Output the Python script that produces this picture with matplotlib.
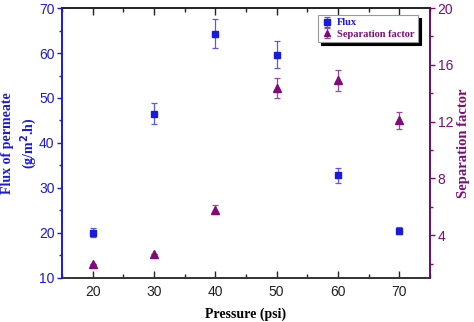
import matplotlib
matplotlib.use("Agg")
import matplotlib.pyplot as plt
from matplotlib.ticker import MultipleLocator

pressure = [20, 30, 40, 50, 60, 70]
flux = [20.0, 46.5, 64.3, 59.6, 32.8, 20.5]
flux_err = [1.0, 2.3, 3.2, 3.0, 1.6, 0.8]
sep = [2.0, 2.7, 5.8, 14.4, 14.9, 12.1]
sep_err = [0.0, 0.0, 0.3, 0.7, 0.75, 0.6]

blue = "#1a1adc"
purple = "#800a7a"
serif = ["Liberation Serif", "DejaVu Serif"]
sans = ["Liberation Sans", "DejaVu Sans"]

fig = plt.figure(figsize=(4.74, 3.22), dpi=100)
ax = fig.add_axes([0.131, 0.137, 0.776, 0.838])
ax2 = ax.twinx()

h1 = ax.errorbar(pressure, flux, yerr=flux_err, fmt="s", color=blue, ms=5,
                 ecolor="#5a5ae0", elinewidth=0.9, capsize=2.5, capthick=0.9,
                 label="Flux")
h2 = ax2.errorbar(pressure, sep, yerr=sep_err, fmt="^", color=purple, ms=6,
                  ecolor="#9a4a96", elinewidth=0.9, capsize=2.5, capthick=0.9,
                  label="Separation factor")

ax.set_xlim(15, 75)
ax.set_ylim(10, 70)
ax2.set_ylim(1, 20)

ax.xaxis.set_major_locator(MultipleLocator(10))
ax.xaxis.set_minor_locator(MultipleLocator(5))
ax.yaxis.set_major_locator(MultipleLocator(10))
ax.yaxis.set_minor_locator(MultipleLocator(5))
ax2.set_yticks([4, 8, 12, 16, 20])
ax2.set_yticks([2, 6, 10, 14, 18], minor=True)

ax.tick_params(axis="x", which="both", direction="in", top=True, colors="#222222",
               labelsize=10, pad=5)
ax.tick_params(axis="x", which="major", length=5, width=1)
ax.tick_params(axis="x", which="minor", length=3, width=1)
ax.tick_params(axis="y", which="both", direction="out", colors=blue, labelsize=10,
               pad=2)
ax.tick_params(axis="y", which="major", length=3.5, width=1)
ax.tick_params(axis="y", which="minor", length=2.5, width=1)
ax2.tick_params(axis="y", which="both", direction="out", colors=purple, labelsize=10,
                pad=2)
ax2.tick_params(axis="y", which="major", length=3.5, width=1)
ax2.tick_params(axis="y", which="minor", length=2.5, width=1)

for lab in ax.get_xticklabels() + ax.get_yticklabels() + ax2.get_yticklabels():
    lab.set_family(sans)

ax.spines["left"].set_color(blue)
ax2.spines["left"].set_color(blue)
ax2.spines["right"].set_color(purple)
ax.spines["bottom"].set_color("#333333")
ax2.spines["bottom"].set_color("#333333")
ax.spines["top"].set_color("#222222")
ax2.spines["top"].set_color("#222222")
for sp in list(ax.spines.values()) + list(ax2.spines.values()):
    sp.set_linewidth(1.2)

ax.set_xlabel("Pressure (psi)", family=serif, fontweight="bold", fontsize=10,
              color="black", labelpad=6)
ax.set_ylabel("Flux of permeate\n(g/m$^{\\mathbf{2}}$.h)", family=serif,
              fontweight="bold", fontsize=10, color=blue,
              linespacing=1.25)
ax2.set_ylabel("Separation factor", family=serif, fontweight="bold",
               fontsize=10.5, color=purple)
ax.yaxis.label.set_va("center")
ax2.yaxis.label.set_va("center")
ax.yaxis.set_label_coords(-0.115, 0.5)
ax2.yaxis.set_label_coords(1.092, 0.5)

leg = ax.legend([h1, h2], ["Flux", "Separation factor"], loc="upper right",
                bbox_to_anchor=(0.967, 0.974), borderaxespad=0.0,
                frameon=True, fancybox=False,
                shadow={"color": "black", "alpha": 1.0}, borderpad=0.3,
                handletextpad=0.5, labelspacing=0.2, handlelength=1.0,
                markerscale=0.8,
                prop={"family": serif, "weight": "bold", "size": 7.5})
leg.get_frame().set_edgecolor("#999999")
leg.get_frame().set_linewidth(0.8)
leg.texts[0].set_color(blue)
leg.texts[1].set_color(purple)

fig.savefig("out.png", dpi=100)
